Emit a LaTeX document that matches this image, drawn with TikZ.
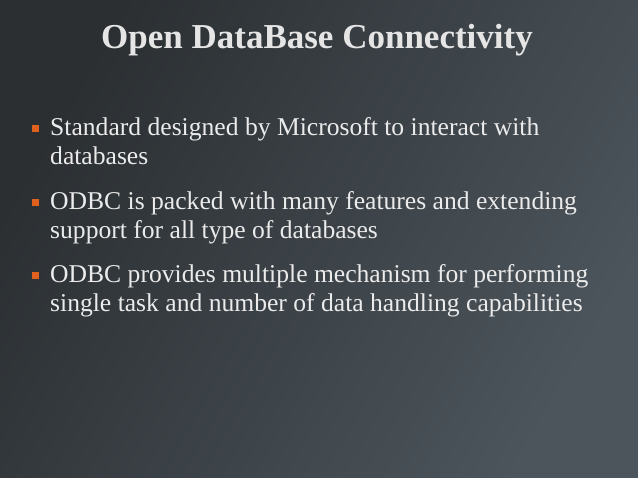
\documentclass[tikz,border=0pt]{standalone}
\usepackage{fontspec}
\setmainfont{Liberation Serif}
\definecolor{bgdark}{HTML}{2B2F32}
\definecolor{bglight}{HTML}{4C555C}
\definecolor{bulletorange}{HTML}{E0601E}
\begin{document}
\begin{tikzpicture}[x=1pt, y=1pt,
    point/.style={anchor=north west, inner sep=0pt, align=left,
      text=white!92!black, font=\fontsize{25.6}{29}\selectfont},
    marker/.style={fill=bulletorange, minimum size=7pt, inner sep=0pt}
]
    % Background
    \shade[shading=axis, left color=bgdark, right color=bglight, shading angle=60]
      (0,0) rectangle (638,478);
    \useasboundingbox (0,0) rectangle (638,478);

    % Title
    \node[text=white!90!black, font=\bfseries\fontsize{35}{40}\selectfont] (title) at (317,438) {Open DataBase Connectivity};

    % Points
    \node[point] (p1) at (50,361) {Standard designed by Microsoft to interact with\\databases};
    \node[point] (p2) at (50,287) {ODBC is packed with many features and extending\\support for all type of databases};
    \node[point] (p3) at (50,214) {ODBC provides multiple mechanism for performing\\single task and number of data handling capabilities};

    % Markers
    \node[marker] (m1) at (35,349) {};
    \node[marker] (m2) at (35,275) {};
    \node[marker] (m3) at (35,202) {};
\end{tikzpicture}
\end{document}
